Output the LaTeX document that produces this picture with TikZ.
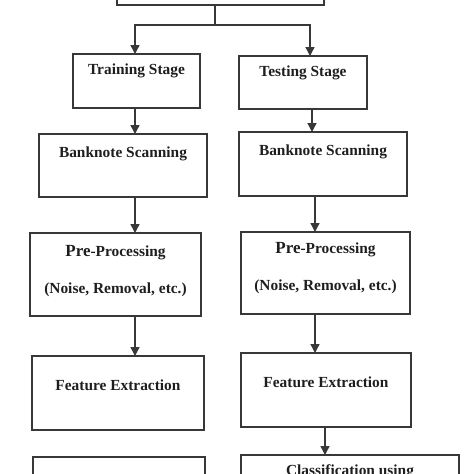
\documentclass[tikz,border=0pt]{standalone}
\usepackage{fontspec}
\setmainfont{Liberation Serif}
\usetikzlibrary{arrows.meta}

\definecolor{linegray}{HTML}{383838}
\definecolor{textgray}{HTML}{1E1E1E}

\begin{document}
\begin{tikzpicture}[x=1pt, y=-1pt,
    box/.style={draw=linegray, line width=1.4pt, inner sep=0pt, outer sep=0pt,
        anchor=north west, align=center, text=textgray,
        font=\bfseries\fontsize{15.4}{18}\selectfont},
    link/.style={draw=linegray, line width=1.4pt},
    arr/.style={link, -{Triangle[width=9pt,length=9pt]}}]

    % Fix the frame of the picture
    \useasboundingbox (0,0) rectangle (474,474);
    \clip (0,0) rectangle (474,474);

    % Top box, cut off by the upper edge
    \node[box, minimum width=207pt, text height=20pt, text depth=20pt] (top) at (117,-35) {};

    % The two stages
    \node[box, minimum width=127pt, text height=20pt, text depth=34pt] (train) at (73,54) {Training Stage};
    \node[box, minimum width=128pt, text height=20pt, text depth=33pt] (test) at (239,56) {Testing Stage};

    % Scanning
    \node[box, minimum width=168pt, text height=23pt, text depth=40pt] (scanL) at (39,134) {Banknote Scanning};
    \node[box, minimum width=168pt, text height=23pt, text depth=41pt] (scanR) at (239,132) {Banknote Scanning};

    % Pre-processing (the height counts down to the second line)
    \node[box, minimum width=171pt, text height=60pt, text depth=23pt] (preL) at (30,233)
        {{\fontsize{17}{18}\selectfont Pre}-Processing\\[19pt](Noise, Removal, etc.)};
    \node[box, minimum width=169pt, text height=58pt, text depth=24pt] (preR) at (241,232)
        {{\fontsize{17}{18}\selectfont Pre}-Processing\\[19pt](Noise, Removal, etc.)};

    % Feature extraction
    \node[box, minimum width=172pt, text height=34pt, text depth=40pt] (featL) at (32,356) {Feature Extraction};
    \node[box, minimum width=170pt, text height=34pt, text depth=40pt] (featR) at (241,353) {Feature Extraction};

    % Last row, cut off by the lower edge
    \node[box, minimum width=172pt, text height=20pt, text depth=60pt] (lastL) at (33,457) {};
    \node[box, minimum width=218pt, text height=20pt, text depth=60pt] (classR) at (241,455) {Classification using};

    % Fork below the top box
    \coordinate (fork) at (215,25);
    \draw[link] ([xshift=-5.5pt]top.south) -- (fork);
    \draw[arr] (fork) -| ([xshift=-1.5pt]train.north);
    \draw[arr] (fork) -| ([xshift=7pt]test.north);

    % Training column
    \draw[arr] ([xshift=-1.5pt]train.south) -- ([xshift=-1.5pt]train.south |- scanL.north);
    \draw[arr] ([xshift=12pt]scanL.south) -- ([xshift=12pt]scanL.south |- preL.north);
    \draw[arr] ([xshift=19.5pt]preL.south) -- ([xshift=19.5pt]preL.south |- featL.north);

    % Testing column
    \draw[arr] ([xshift=9pt]test.south) -- ([xshift=9pt]test.south |- scanR.north);
    \draw[arr] ([xshift=-8pt]scanR.south) -- ([xshift=-8pt]scanR.south |- preR.north);
    \draw[arr] ([xshift=-10.5pt]preR.south) -- ([xshift=-10.5pt]preR.south |- featR.north);
    \draw[arr] ([xshift=-1pt]featR.south) -- ([xshift=-1pt]featR.south |- classR.north);

\end{tikzpicture}
\end{document}
